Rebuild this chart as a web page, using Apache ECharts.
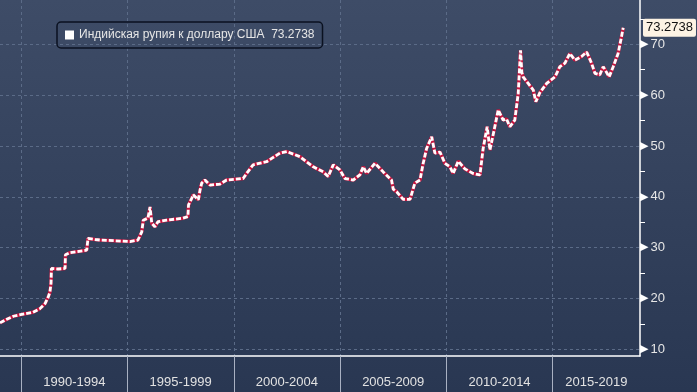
<!DOCTYPE html>
<html><head><meta charset="utf-8">
<script src="https://cdn.jsdelivr.net/npm/echarts@6/dist/echarts.min.js"></script>
<style>html,body{margin:0;padding:0;background:#333f5a}#c{width:697px;height:392px}</style>
</head><body><div id="c"></div>
<script>
const years = [1989.00,1989.32,1989.63,1990.18,1990.55,1990.88,1991.12,1991.27,1991.35,1991.40,1991.42,1991.73,1992.06,1992.08,1992.29,1993.08,1993.14,1993.47,1993.70,1995.11,1995.49,1995.67,1995.74,1995.96,1996.06,1996.14,1996.29,1996.43,1996.84,1997.61,1997.84,1997.87,1998.02,1998.09,1998.33,1998.41,1998.49,1998.64,1998.88,1999.35,1999.66,2000.44,2000.60,2000.91,2001.54,2002.17,2002.49,2003.11,2003.74,2004.21,2004.44,2004.68,2004.99,2005.23,2005.62,2005.93,2006.09,2006.25,2006.64,2007.03,2007.42,2007.50,2007.66,2007.97,2008.29,2008.52,2008.76,2008.91,2009.07,2009.31,2009.46,2009.70,2009.93,2010.17,2010.32,2010.56,2010.87,2011.26,2011.58,2011.73,2011.92,2012.05,2012.28,2012.44,2012.67,2012.83,2012.99,2013.22,2013.38,2013.49,2013.55,2013.61,2013.85,2014.09,2014.21,2014.40,2014.72,2015.11,2015.34,2015.58,2015.81,2016.05,2016.36,2016.60,2016.83,2016.99,2017.22,2017.38,2017.66,2017.85,2018.08,2018.24,2018.32];
const values = [15.2,15.9,16.5,17.0,17.3,18.0,19.0,20.3,21.3,23.0,25.9,25.8,25.9,28.6,29.0,29.5,31.8,31.6,31.5,31.2,31.5,33.1,35.4,35.8,38.0,34.8,34.1,35.1,35.4,35.8,36.1,38.4,39.7,40.4,39.4,41.3,42.7,43.3,42.3,42.5,43.3,43.6,44.6,46.3,46.9,48.6,48.9,47.9,45.9,44.9,44.0,46.3,45.3,43.6,43.3,44.3,45.9,44.6,46.6,44.9,43.3,41.5,41.0,39.5,39.5,42.7,43.3,46.6,49.5,51.8,48.6,48.8,46.6,45.9,44.6,47.0,45.5,44.6,44.3,49.5,53.8,49.2,53.8,57.1,55.1,55.3,53.8,55.1,60.3,68.8,64.5,63.6,62.3,61.0,58.7,60.5,62.3,63.6,65.6,66.3,68.2,66.9,67.6,68.5,66.3,64.3,64.0,65.6,63.6,65.6,68.2,71.5,73.27];
const bandStarts = [1990,1995,2000,2005,2010,2015];
const bandLabels = ['1990-1994','1995-1999','2000-2004','2005-2009','2010-2014','2015-2019'];
const yTicks = [10,20,30,40,50,60,70];
const yMinorTicks = [15,25,35,45,55,65,75];
const lastValue = 73.2738;
const seriesName = 'Индийская рупия к доллару США  73.2738';
const X_MIN = 1989.0, X_MAX = 2019.11, Y_MIN = 8.68, Y_MAX = 78.72;

const pts = years.map((y,i)=>[y, values[i]]);
const bandMid = bandStarts.map(s => (s + Math.min(s+5, X_MAX))/2);

const chart = echarts.init(document.getElementById('c'));
chart.setOption({
  animation: false,
  backgroundColor: new echarts.graphic.LinearGradient(0,0,0,1,[{offset:0,color:'#3e4c67'},{offset:1,color:'#293752'}]),
  textStyle: {fontFamily: 'Liberation Sans'},
  grid: {left: 0, right: 57, top: 0, bottom: 36},
  legend: {
    left: 57, top: 22, padding: [7,8,7,8], itemWidth: 9, itemHeight: 9, icon: 'rect',
    borderColor: '#0a1120', borderWidth: 1.5, borderRadius: 4,
    textStyle: {color: '#e6e6e6', fontSize: 12, fontFamily: 'Liberation Sans'},
    data: [seriesName]
  },
  xAxis: {
    type: 'value', min: X_MIN, max: X_MAX,
    axisLine: {show: true, lineStyle: {color: '#ffffff', width: 1.5}},
    axisTick: {show: true, customValues: bandStarts, length: 36, lineStyle: {color: '#a9b1c2', width: 1}},
    axisLabel: {customValues: bandMid, margin: 20, color: '#e2e2e2', fontSize: 13,
      formatter: v => { const i = bandMid.findIndex(m => Math.abs(m - v) < 0.01); return i >= 0 ? bandLabels[i] : ''; }},
    splitLine: {show: true, lineStyle: {color: '#5b6b87', type: [3,3], width: 1}}
  },
  yAxis: [{
    type: 'value', position: 'right', min: Y_MIN, max: Y_MAX,
    axisLine: {show: true, lineStyle: {color: '#ffffff', width: 1.5}},
    axisTick: {show: false, customValues: yTicks},
    axisLabel: {customValues: yTicks, margin: 0, color: '#e6e6e6', fontSize: 13,
      formatter: v => '{t|▶}{v|' + v + '}',
      rich: {t: {fontSize: 11, color: '#ffffff', fontFamily: 'DejaVu Sans', padding: [0,2,0,0]}, v: {fontSize: 13, color: '#e6e6e6'}}},
    splitLine: {show: true, lineStyle: {color: '#5b6b87', type: [3,3], width: 1}}
  }, {
    type: 'value', position: 'right', min: Y_MIN, max: Y_MAX,
    axisLine: {show: false},
    axisTick: {show: true, customValues: yMinorTicks, length: 5, lineStyle: {color: '#ffffff', width: 1}},
    axisLabel: {show: false},
    splitLine: {show: false}
  }],
  series: [{
    name: 'red', type: 'line', data: pts, showSymbol: false, silent: true,
    lineStyle: {color: '#c8163f', width: 3.5}, itemStyle: {color: '#c8163f'}
  }, {
    name: seriesName, type: 'line', data: pts, showSymbol: false, silent: true,
    lineStyle: {color: '#ffffff', width: 2.8, type: [5,2]}, itemStyle: {color: '#ffffff'},
    markLine: {
      silent: true, symbol: 'none', lineStyle: {color: 'rgba(0,0,0,0)', width: 0},
      data: [{yAxis: lastValue}],
      label: {show: true, position: 'end', distance: 3, formatter: String(lastValue), backgroundColor: '#fdf3e4',
        color: '#111111', fontSize: 13, padding: [3,3,2,3], borderRadius: 2}
    }
  }]
});
</script></body></html>
